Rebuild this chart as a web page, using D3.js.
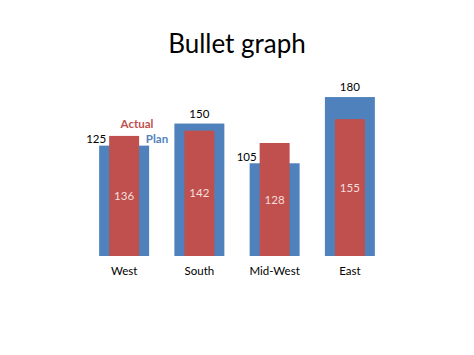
<!DOCTYPE html>
<html>
<head>
<meta charset="utf-8">
<script src="https://cdn.jsdelivr.net/npm/d3@7"></script>
<style>
  body { margin: 0; background: #fff; }
  text { font-family: Lato, "Open Sans", sans-serif; }
</style>
</head>
<body>
<script>
const regions = ["West", "South", "Mid-West", "East"];
const plan = [125, 150, 105, 180];
const actual = [136, 142, 128, 155];

const width = 474;
const height = 355;

const svg = d3.select("body").append("svg")
  .attr("width", width)
  .attr("height", height);

// x positions of the four groups
const x = d3.scaleBand()
  .domain(regions)
  .range([86.5, 387.5])
  .paddingInner(0.336)
  .paddingOuter(0.168);

const y = d3.scaleLinear()
  .domain([0, 200])
  .range([256, 79.4]);

const data = regions.map((r, i) => ({ region: r, plan: plan[i], actual: actual[i] }));

svg.append("text")
  .attr("x", 237)
  .attr("y", 53)
  .attr("text-anchor", "middle")
  .attr("font-size", 26)
  .attr("fill", "#000")
  .text("Bullet graph");

const g = svg.append("g");

// plan bars (wide, blue)
g.selectAll("rect.plan")
  .data(data)
  .enter()
  .append("rect")
  .attr("class", "plan")
  .attr("x", d => x(d.region))
  .attr("width", x.bandwidth())
  .attr("y", d => y(d.plan))
  .attr("height", d => y(0) - y(d.plan))
  .attr("fill", "#4F81BD");

// actual bars (narrow, red)
const inner = x.bandwidth() * 0.6;
g.selectAll("rect.actual")
  .data(data)
  .enter()
  .append("rect")
  .attr("class", "actual")
  .attr("x", d => x(d.region) + (x.bandwidth() - inner) / 2)
  .attr("width", inner)
  .attr("y", d => y(d.actual))
  .attr("height", d => y(0) - y(d.actual))
  .attr("fill", "#C0504D");

// plan value labels
g.selectAll("text.planLabel")
  .data(data)
  .enter()
  .append("text")
  .attr("class", "planLabel")
  .attr("x", d => d.actual > d.plan ? x(d.region) - 3 : x(d.region) + x.bandwidth() / 2)
  .attr("y", d => d.actual > d.plan ? y(d.plan) - 2.5 : y(d.plan) - 6)
  .attr("text-anchor", "middle")
  .attr("font-size", 11.5)
  .attr("fill", "#000")
  .text(d => d.plan);

// actual value labels
g.selectAll("text.actualLabel")
  .data(data)
  .enter()
  .append("text")
  .attr("class", "actualLabel")
  .attr("x", d => x(d.region) + x.bandwidth() / 2)
  .attr("y", d => (y(d.actual) + y(0)) / 2)
  .attr("dy", "0.35em")
  .attr("text-anchor", "middle")
  .attr("font-size", 11.5)
  .attr("fill", "#F4DEDD")
  .text(d => d.actual);

// category labels
g.selectAll("text.cat")
  .data(regions)
  .enter()
  .append("text")
  .attr("class", "cat")
  .attr("x", d => x(d) + x.bandwidth() / 2)
  .attr("y", 275)
  .attr("text-anchor", "middle")
  .attr("font-size", 11.5)
  .attr("fill", "#000")
  .text(d => d);

// series names next to the first group
svg.append("text")
  .attr("x", 137)
  .attr("y", 128)
  .attr("text-anchor", "middle")
  .attr("font-size", 11.5)
  .attr("font-weight", "bold")
  .attr("fill", "#C0504D")
  .text("Actual");

svg.append("text")
  .attr("x", 157)
  .attr("y", 143)
  .attr("text-anchor", "middle")
  .attr("font-size", 11.5)
  .attr("font-weight", "bold")
  .attr("fill", "#4F81BD")
  .text("Plan");
</script>
</body>
</html>
